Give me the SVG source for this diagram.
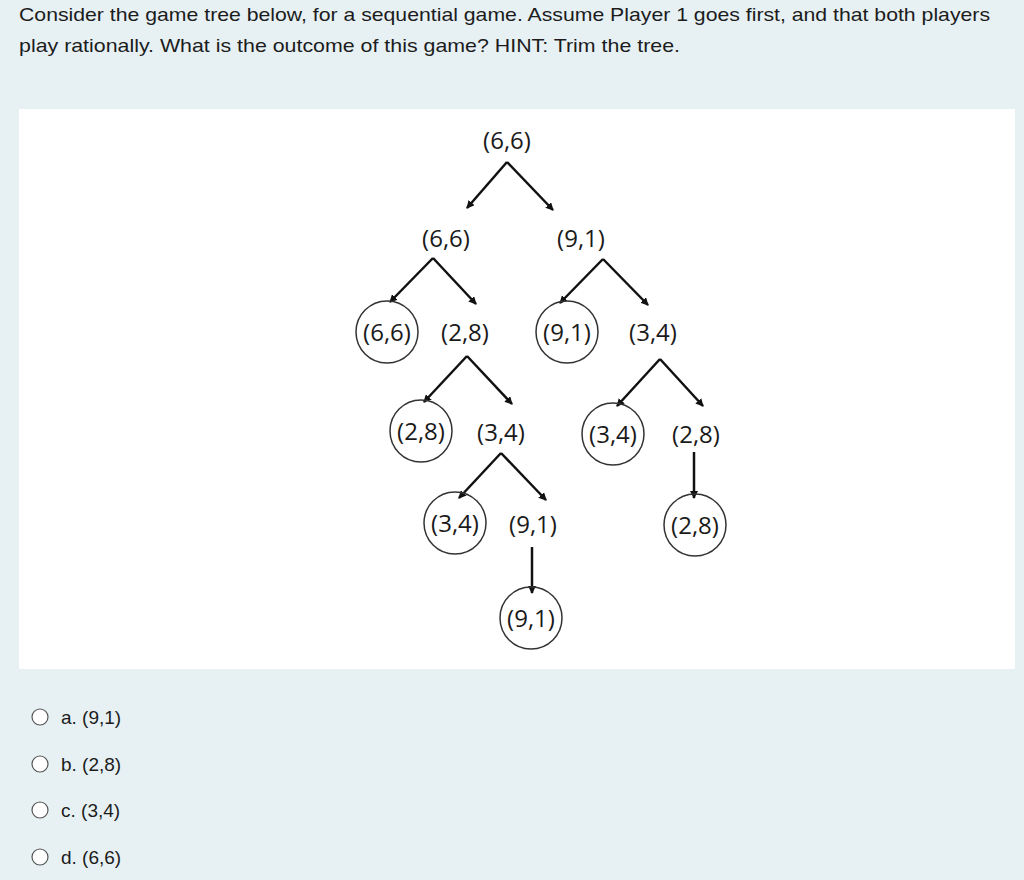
<svg xmlns="http://www.w3.org/2000/svg" width="1024" height="880" viewBox="0 0 1024 880">
<defs>
<marker id="ah" markerWidth="8" markerHeight="8" refX="7" refY="4" orient="auto" markerUnits="userSpaceOnUse"><path d="M0,0 L8,4 L0,8 z" fill="#111"/></marker>
<style>
.q{font-family:"Helvetica Neue","Liberation Sans",Arial,sans-serif;font-size:19px;fill:#1c1c1c}
.t{font-family:"Open Sans","Liberation Sans",sans-serif;font-size:24px;fill:#1a1a1a;text-anchor:middle}
.c{fill:none;stroke:#333;stroke-width:1.5}
.e line{stroke:#111;stroke-width:2.5;marker-end:url(#ah)}
.r{fill:#fff;stroke:#555;stroke-width:1.2}
</style>
</defs>
<rect width="1024" height="880" fill="#e7f1f4"/>
<text class="q" x="19" y="21" textLength="971" lengthAdjust="spacingAndGlyphs">Consider the game tree below, for a sequential game. Assume Player 1 goes first, and that both players</text>
<text class="q" x="19" y="52" textLength="661" lengthAdjust="spacingAndGlyphs">play rationally. What is the outcome of this game? HINT: Trim the tree.</text>
<rect x="19" y="109" width="996" height="560" fill="#fff"/>
<g class="e" id="edges">
<line x1="507" y1="162" x2="467" y2="208"/><line x1="507" y1="162" x2="553" y2="210"/>
<line x1="433" y1="258" x2="390" y2="302"/><line x1="433" y1="258" x2="476" y2="304"/>
<line x1="603" y1="259" x2="560" y2="303"/><line x1="603" y1="259" x2="648" y2="305"/>
<line x1="467" y1="356" x2="424" y2="402"/><line x1="467" y1="356" x2="512" y2="404"/>
<line x1="660" y1="359" x2="617" y2="406"/><line x1="660" y1="359" x2="703" y2="406"/>
<line x1="501" y1="453" x2="459" y2="498"/><line x1="501" y1="453" x2="546" y2="500"/>
<line x1="694" y1="452" x2="694" y2="498"/>
<line x1="532" y1="547" x2="532" y2="593"/>
</g>
<g id="n1"><text class="t" x="507" y="149">(6,6)</text></g>
<g id="n2"><text class="t" x="446" y="247">(6,6)</text></g>
<g id="n3"><text class="t" x="581" y="247">(9,1)</text></g>
<g id="n4"><circle class="c" cx="387" cy="332" r="31"/><text class="t" x="387" y="341">(6,6)</text></g>
<g id="n5"><text class="t" x="465" y="341">(2,8)</text></g>
<g id="n6"><circle class="c" cx="567" cy="332" r="31"/><text class="t" x="567" y="341">(9,1)</text></g>
<g id="n7"><text class="t" x="653" y="341">(3,4)</text></g>
<g id="n8"><circle class="c" cx="421" cy="431" r="31"/><text class="t" x="421" y="440">(2,8)</text></g>
<g id="n9"><text class="t" x="501" y="441">(3,4)</text></g>
<g id="n10"><circle class="c" cx="613" cy="434" r="31"/><text class="t" x="613" y="443">(3,4)</text></g>
<g id="n11"><text class="t" x="696" y="443">(2,8)</text></g>
<g id="n12"><circle class="c" cx="455" cy="523" r="31"/><text class="t" x="455" y="532">(3,4)</text></g>
<g id="n13"><text class="t" x="533" y="533">(9,1)</text></g>
<g id="n14"><circle class="c" cx="695" cy="525" r="31"/><text class="t" x="695" y="534">(2,8)</text></g>
<g id="n15"><circle class="c" cx="531" cy="618" r="31"/><text class="t" x="531" y="627">(9,1)</text></g>
<circle class="r" cx="40" cy="717" r="8"/><text class="q" x="61" y="724">a. (9,1)</text>
<circle class="r" cx="40" cy="764" r="8"/><text class="q" x="61" y="771">b. (2,8)</text>
<circle class="r" cx="40" cy="810" r="8"/><text class="q" x="61" y="817">c. (3,4)</text>
<circle class="r" cx="40" cy="857" r="8"/><text class="q" x="61" y="864">d. (6,6)</text>
</svg>
